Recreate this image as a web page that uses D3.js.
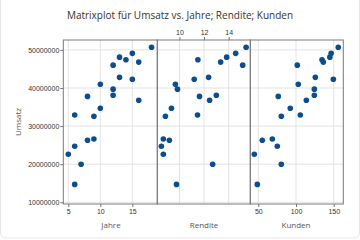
<!DOCTYPE html>
<html>
<head>
<meta charset="utf-8">
<script src="https://cdn.jsdelivr.net/npm/d3@7"></script>
<style>
  body { margin: 0; background: #fff; }
  svg { display: block; font-family: "Open Sans", "Noto Sans", sans-serif; }
  .tick text { fill: #333; font-size: 7px; }
  .domain { display: none; }
  .tick line { stroke: #777; }
</style>
</head>
<body>
<script>
// Umsatz (y) gegen Jahre, Rendite, Kunden
var umsatz  = [50.7e6, 49.1e6, 48.1e6, 47.4e6, 46.8e6, 46.0e6, 42.8e6, 42.3e6, 41.0e6, 39.7e6, 38.1e6,
               37.8e6, 36.8e6, 34.7e6, 32.9e6, 32.6e6, 26.6e6, 26.3e6, 24.7e6, 22.6e6, 20.0e6, 14.7e6];
var jahre   = [18, 15, 13, 14, 16, 12, 13, 15, 10, 12, 12, 8, 16, 10, 6, 9, 9, 8, 6, 5, 7, 6];
var rendite = [15.42, 14.57, 13.84, 11.5, 13.35, 15.14, 12.37, 11.2, 9.67, 9.84, 13.0,
               11.63, 12.45, 9.35, 11.47, 8.86, 8.69, 9.18, 8.53, 8.69, 12.7, 9.76];
var kunden  = [156, 146.6, 144.9, 134.5, 136.2, 101.7, 125.6, 149.5, 103, 124.3, 124.3,
               76.5, 113.7, 92.4, 105.7, 80.5, 68.6, 55.3, 75.2, 44.7, 80.5, 48.7];

var yTicks = [10000000, 20000000, 30000000, 40000000, 50000000];
var jahreTicks = [5, 10, 15];
var renditeTicks = [10, 12, 14];
var kundenTicks = [50, 100, 150];

var w = 360, h = 240;
var plotTop = 40, plotBottom = 204;
var color = "#0b4d8e";

var svg = d3.select("body").append("svg")
            .attr("width", w)
            .attr("height", h);

svg.append("rect")
   .attr("x", 0.5).attr("y", -5)
   .attr("width", w - 1).attr("height", 243)
   .attr("rx", 5)
   .attr("fill", "none")
   .attr("stroke", "#e6e6e6");

svg.append("text")
   .attr("x", 180).attr("y", 19)
   .attr("text-anchor", "middle")
   .attr("font-size", 10)
   .attr("fill", "#333")
   .text("Matrixplot für Umsatz vs. Jahre; Rendite; Kunden");

var y = d3.scaleLinear().domain([9.55e6, 52.6e6]).range([plotBottom, plotTop]);

var panels = [
  { name: "Jahre",   vals: jahre,   ticks: jahreTicks,   dom: [4.22, 18.9],  x0: 63.3,  x1: 157.3, side: "bottom", lx: 111 },
  { name: "Rendite", vals: rendite, ticks: renditeTicks, dom: [8.2, 15.76],  x0: 157.3, x1: 250.3, side: "top",    lx: 204 },
  { name: "Kunden",  vals: kunden,  ticks: kundenTicks,  dom: [39.4, 162.7], x0: 250.3, x1: 343.3, side: "bottom", lx: 296 }
];

// horizontal grid across all panels
svg.selectAll("line.hgrid")
   .data(yTicks)
   .enter()
   .append("line")
   .attr("class", "hgrid")
   .attr("x1", 63.3).attr("x2", 343.3)
   .attr("y1", function(d) { return y(d); })
   .attr("y2", function(d) { return y(d); })
   .attr("stroke", "#e3e3e3");

panels.forEach(function(p) {
  var x = d3.scaleLinear().domain(p.dom).range([p.x0, p.x1]);

  svg.selectAll(null)
     .data(p.ticks)
     .enter()
     .append("line")
     .attr("x1", function(d) { return x(d); })
     .attr("x2", function(d) { return x(d); })
     .attr("y1", plotTop).attr("y2", plotBottom)
     .attr("stroke", "#e3e3e3");

  var axis = p.side == "top" ? d3.axisTop(x) : d3.axisBottom(x);
  axis.tickValues(p.ticks).tickSize(3).tickPadding(2).tickFormat(d3.format("d"));
  svg.append("g")
     .attr("transform", "translate(0," + (p.side == "top" ? plotTop : plotBottom) + ")")
     .call(axis);

  svg.selectAll(null)
     .data(p.vals)
     .enter()
     .append("circle")
     .attr("cx", function(d) { return x(d); })
     .attr("cy", function(d, i) { return y(umsatz[i]); })
     .attr("r", 2.8)
     .attr("fill", color);

  svg.append("text")
     .attr("x", p.lx)
     .attr("y", 228)
     .attr("text-anchor", "middle")
     .attr("font-size", 8)
     .attr("fill", "#555")
     .text(p.name);
});

svg.append("g")
   .attr("transform", "translate(63.3,0)")
   .call(d3.axisLeft(y).tickValues(yTicks).tickSize(3).tickPadding(1).tickFormat(d3.format("d")));

// panel frames
panels.forEach(function(p) {
  svg.append("rect")
     .attr("x", p.x0).attr("y", plotTop)
     .attr("width", p.x1 - p.x0).attr("height", plotBottom - plotTop)
     .attr("fill", "none")
     .attr("stroke", "#7a7a7a");
});

svg.append("text")
   .attr("transform", "translate(21,122) rotate(-90)")
   .attr("text-anchor", "middle")
   .attr("font-size", 8)
   .attr("fill", "#555")
   .text("Umsatz");
</script>
</body>
</html>
